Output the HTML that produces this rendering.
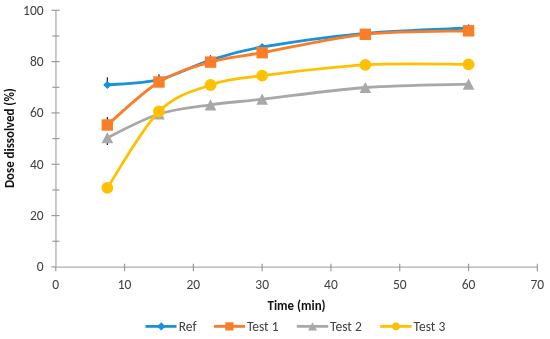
<!DOCTYPE html>
<html><head><meta charset="utf-8"><style>html,body{margin:0;padding:0;background:#fff;overflow:hidden}svg{display:block}</style></head>
<body><svg width="550" height="339" viewBox="0 0 550 339"><rect width="550" height="339" fill="#fff"/>
<g stroke="#adadad" stroke-width="1.3"><line x1="55.95" y1="10.30" x2="55.95" y2="266.90"/><line x1="55.75" y1="267.10" x2="537.35" y2="267.10"/></g>
<g stroke="#9a9a9a" stroke-width="1.2"><line x1="52.35" y1="241.24" x2="59.35" y2="241.24"/><line x1="51.45" y1="215.58" x2="59.65" y2="215.58"/><line x1="52.35" y1="189.92" x2="59.35" y2="189.92"/><line x1="51.45" y1="164.26" x2="59.65" y2="164.26"/><line x1="52.35" y1="138.60" x2="59.35" y2="138.60"/><line x1="51.45" y1="112.94" x2="59.65" y2="112.94"/><line x1="52.35" y1="87.28" x2="59.35" y2="87.28"/><line x1="51.45" y1="61.62" x2="59.65" y2="61.62"/><line x1="52.35" y1="35.96" x2="59.35" y2="35.96"/><line x1="51.45" y1="10.30" x2="59.65" y2="10.30"/><line x1="51.45" y1="266.90" x2="55.75" y2="266.90"/><line x1="55.75" y1="266.90" x2="55.75" y2="271.20"/><line x1="124.55" y1="263.70" x2="124.55" y2="271.20"/><line x1="193.35" y1="263.70" x2="193.35" y2="271.20"/><line x1="262.15" y1="263.70" x2="262.15" y2="271.20"/><line x1="330.95" y1="263.70" x2="330.95" y2="271.20"/><line x1="399.75" y1="263.70" x2="399.75" y2="271.20"/><line x1="468.55" y1="263.70" x2="468.55" y2="271.20"/><line x1="537.35" y1="263.70" x2="537.35" y2="271.20"/></g>
<g font-family='Carlito, "Liberation Sans", sans-serif' font-size="13.5" fill="#404040"><text x="43.6" y="271.20" text-anchor="end" textLength="6.844" lengthAdjust="spacingAndGlyphs">0</text><text x="43.6" y="219.88" text-anchor="end" textLength="13.688" lengthAdjust="spacingAndGlyphs">20</text><text x="43.6" y="168.56" text-anchor="end" textLength="13.688" lengthAdjust="spacingAndGlyphs">40</text><text x="43.6" y="117.24" text-anchor="end" textLength="13.688" lengthAdjust="spacingAndGlyphs">60</text><text x="43.6" y="65.92" text-anchor="end" textLength="13.688" lengthAdjust="spacingAndGlyphs">80</text><text x="43.6" y="14.60" text-anchor="end" textLength="20.531" lengthAdjust="spacingAndGlyphs">100</text><text x="55.75" y="288.80" text-anchor="middle" textLength="6.844" lengthAdjust="spacingAndGlyphs">0</text><text x="124.55" y="288.80" text-anchor="middle" textLength="13.688" lengthAdjust="spacingAndGlyphs">10</text><text x="193.35" y="288.80" text-anchor="middle" textLength="13.688" lengthAdjust="spacingAndGlyphs">20</text><text x="262.15" y="288.80" text-anchor="middle" textLength="13.688" lengthAdjust="spacingAndGlyphs">30</text><text x="330.95" y="288.80" text-anchor="middle" textLength="13.688" lengthAdjust="spacingAndGlyphs">40</text><text x="399.75" y="288.80" text-anchor="middle" textLength="13.688" lengthAdjust="spacingAndGlyphs">50</text><text x="468.55" y="288.80" text-anchor="middle" textLength="13.688" lengthAdjust="spacingAndGlyphs">60</text><text x="537.35" y="288.80" text-anchor="middle" textLength="13.688" lengthAdjust="spacingAndGlyphs">70</text></g>
<text transform="translate(296.55,309.7) scale(1,1.09)" text-anchor="middle" font-family='Carlito, "Liberation Sans", sans-serif' font-size="12.9" font-weight="bold" fill="#111" textLength="58.05" lengthAdjust="spacingAndGlyphs">Time (min)</text>
<text transform="translate(14.2,138.10) rotate(-90) scale(1,1.09)" text-anchor="middle" font-family='Carlito, "Liberation Sans", sans-serif' font-size="12.9" font-weight="bold" fill="#111" textLength="99.82" lengthAdjust="spacingAndGlyphs">Dose dissolved (%)</text>
<path d="M107.35,84.90 C115.95,84.02 141.75,83.75 158.95,79.60 C176.15,75.45 193.35,65.43 210.55,60.00 C227.75,54.57 236.35,51.45 262.15,47.00 C287.95,42.55 330.95,36.47 365.35,33.30 C399.75,30.13 451.35,28.88 468.55,28.00" fill="none" stroke="#1992dc" stroke-width="2.8" stroke-linecap="round" stroke-linejoin="round"/><g stroke="#222" stroke-width="1.2"><line x1="107.35" y1="77.20" x2="107.35" y2="84.90"/><line x1="158.95" y1="74.20" x2="158.95" y2="79.60"/><line x1="210.55" y1="55.30" x2="210.55" y2="60.00"/></g><path d="M107.35,80.80 L111.45,84.90 L107.35,89.00 L103.25,84.90 Z" fill="#1992dc"/><path d="M158.95,75.50 L163.05,79.60 L158.95,83.70 L154.85,79.60 Z" fill="#1992dc"/><path d="M210.55,55.90 L214.65,60.00 L210.55,64.10 L206.45,60.00 Z" fill="#1992dc"/><path d="M262.15,42.90 L266.25,47.00 L262.15,51.10 L258.05,47.00 Z" fill="#1992dc"/><path d="M365.35,29.20 L369.45,33.30 L365.35,37.40 L361.25,33.30 Z" fill="#1992dc"/><path d="M468.55,23.90 L472.65,28.00 L468.55,32.10 L464.45,28.00 Z" fill="#1992dc"/>
<path d="M107.35,125.00 C115.95,117.83 141.75,92.48 158.95,82.00 C176.15,71.52 193.35,66.98 210.55,62.10 C227.75,57.22 236.35,57.33 262.15,52.70 C287.95,48.07 330.95,37.95 365.35,34.30 C399.75,30.65 451.35,31.38 468.55,30.80" fill="none" stroke="#fa7d28" stroke-width="2.8" stroke-linecap="round" stroke-linejoin="round"/><g stroke="#222" stroke-width="1.2"><line x1="107.35" y1="116.90" x2="107.35" y2="125.00"/></g><rect x="101.65" y="119.30" width="11.40" height="11.40" fill="#fa7d28"/><rect x="153.25" y="76.30" width="11.40" height="11.40" fill="#fa7d28"/><rect x="204.85" y="56.40" width="11.40" height="11.40" fill="#fa7d28"/><rect x="256.45" y="47.00" width="11.40" height="11.40" fill="#fa7d28"/><rect x="359.65" y="28.60" width="11.40" height="11.40" fill="#fa7d28"/><rect x="462.85" y="25.10" width="11.40" height="11.40" fill="#fa7d28"/>
<path d="M107.35,137.60 C115.95,133.67 141.75,119.47 158.95,114.00 C176.15,108.53 193.35,107.27 210.55,104.80 C227.75,102.33 236.35,102.08 262.15,99.20 C287.95,96.32 330.95,90.02 365.35,87.50 C399.75,84.98 451.35,84.67 468.55,84.10" fill="none" stroke="#a8a8a8" stroke-width="2.8" stroke-linecap="round" stroke-linejoin="round"/><g stroke="#222" stroke-width="1.2"><line x1="107.35" y1="137.60" x2="107.35" y2="145.00"/></g><path d="M107.35,132.00 L113.15,143.20 L101.55,143.20 Z" fill="#a8a8a8"/><path d="M158.95,108.40 L164.75,119.60 L153.15,119.60 Z" fill="#a8a8a8"/><path d="M210.55,99.20 L216.35,110.40 L204.75,110.40 Z" fill="#a8a8a8"/><path d="M262.15,93.60 L267.95,104.80 L256.35,104.80 Z" fill="#a8a8a8"/><path d="M365.35,81.90 L371.15,93.10 L359.55,93.10 Z" fill="#a8a8a8"/><path d="M468.55,78.50 L474.35,89.70 L462.75,89.70 Z" fill="#a8a8a8"/>
<path d="M107.35,187.80 C115.95,175.08 141.75,128.63 158.95,111.50 C176.15,94.37 193.35,90.98 210.55,85.00 C227.75,79.02 236.35,78.97 262.15,75.60 C287.95,72.23 330.95,66.68 365.35,64.80 C399.75,62.92 451.35,64.38 468.55,64.30" fill="none" stroke="#ffc000" stroke-width="2.8" stroke-linecap="round" stroke-linejoin="round"/><g stroke="#222" stroke-width="1.2"></g><circle cx="107.35" cy="187.80" r="5.9" fill="#ffc000"/><circle cx="158.95" cy="111.50" r="5.9" fill="#ffc000"/><circle cx="210.55" cy="85.00" r="5.9" fill="#ffc000"/><circle cx="262.15" cy="75.60" r="5.9" fill="#ffc000"/><circle cx="365.35" cy="64.80" r="5.9" fill="#ffc000"/><circle cx="468.55" cy="64.30" r="5.9" fill="#ffc000"/>
<line x1="145.50" y1="326.40" x2="176.50" y2="326.40" stroke="#1992dc" stroke-width="2.8"/>
<path d="M161.30,322.20 L165.50,326.40 L161.30,330.60 L157.10,326.40 Z" fill="#1992dc"/>
<text x="178.70" y="330.80" font-family='Carlito, "Liberation Sans", sans-serif' font-size="13.5" fill="#404040" textLength="17.8125" lengthAdjust="spacingAndGlyphs">Ref</text>
<line x1="213.90" y1="326.40" x2="245.00" y2="326.40" stroke="#fa7d28" stroke-width="2.8"/>
<rect x="225.30" y="322.30" width="8.20" height="8.20" fill="#fa7d28"/>
<text x="246.90" y="330.80" font-family='Carlito, "Liberation Sans", sans-serif' font-size="13.5" fill="#404040" textLength="31.640625" lengthAdjust="spacingAndGlyphs">Test 1</text>
<line x1="296.80" y1="326.40" x2="328.20" y2="326.40" stroke="#a8a8a8" stroke-width="2.8"/>
<path d="M312.50,322.30 L317.00,330.50 L308.00,330.50 Z" fill="#a8a8a8"/>
<text x="330.10" y="330.80" font-family='Carlito, "Liberation Sans", sans-serif' font-size="13.5" fill="#404040" textLength="31.640625" lengthAdjust="spacingAndGlyphs">Test 2</text>
<line x1="380.20" y1="326.40" x2="411.50" y2="326.40" stroke="#ffc000" stroke-width="2.8"/>
<circle cx="395.90" cy="326.40" r="3.8" fill="#ffc000"/>
<text x="413.60" y="330.80" font-family='Carlito, "Liberation Sans", sans-serif' font-size="13.5" fill="#404040" textLength="31.640625" lengthAdjust="spacingAndGlyphs">Test 3</text></svg></body></html>
